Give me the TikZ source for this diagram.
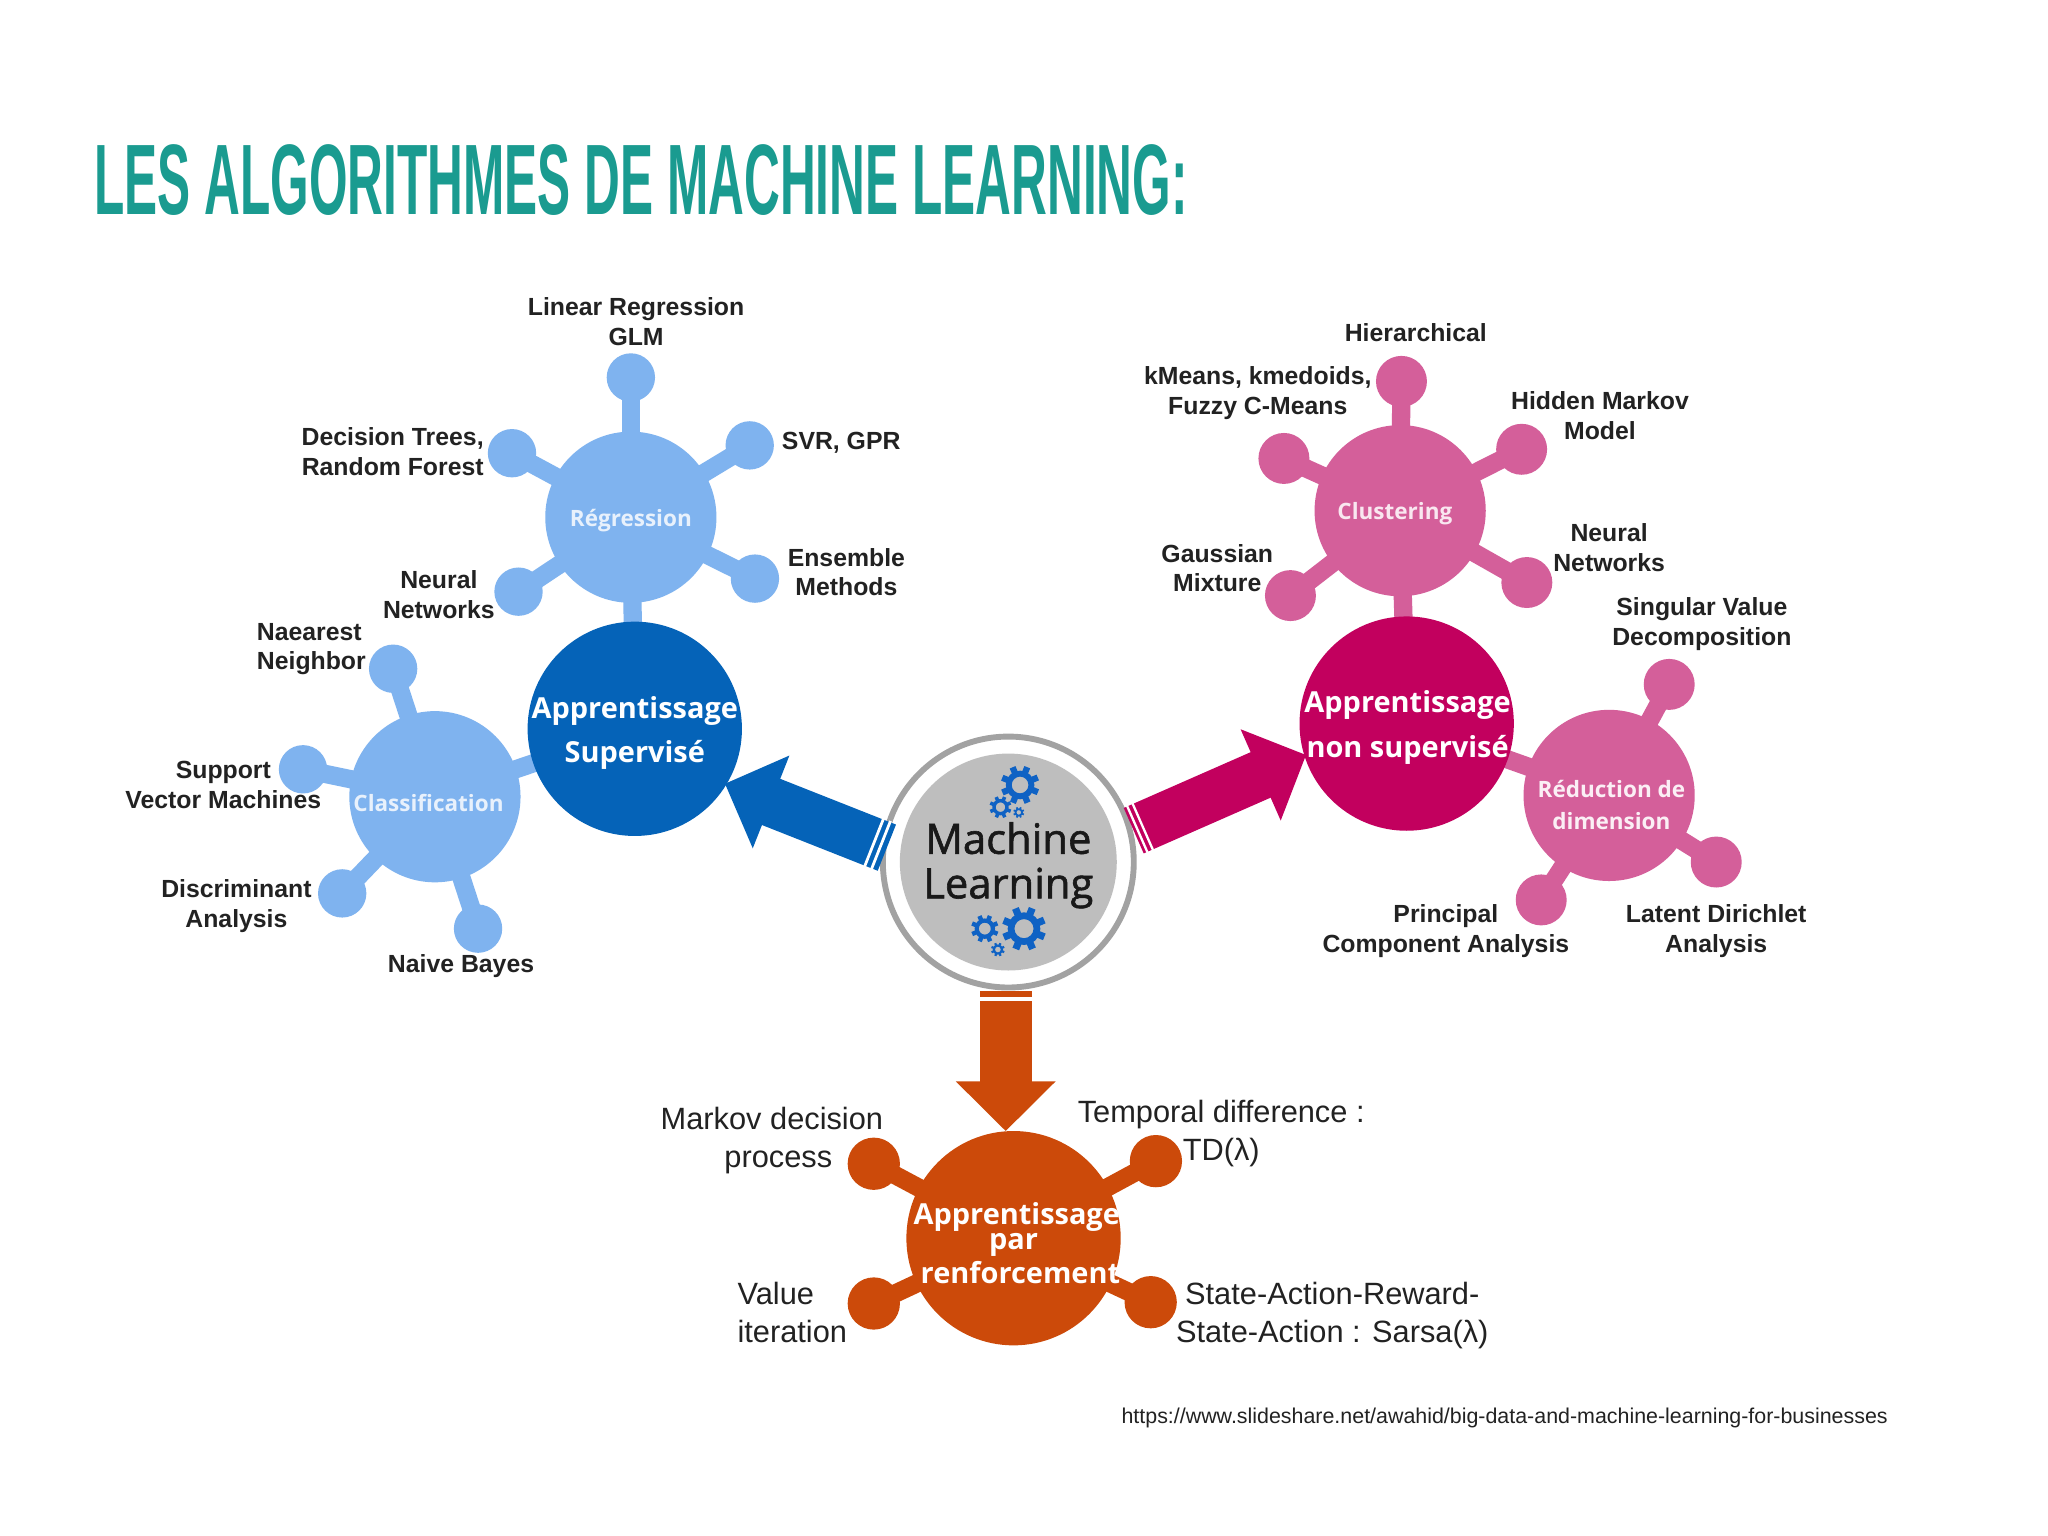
\documentclass[tikz,border=0pt]{standalone}
\usepackage{fontspec}
\setmainfont{Liberation Sans}
\newfontfamily\hubfont{Open Sans}
\newfontfamily\mlfont[FakeBold=1.4]{Open Sans}
\usetikzlibrary{arrows.meta,calc}
\pgfdeclarelayer{bg}
\pgfdeclarelayer{links}
\pgfsetlayers{bg,links,main}
\definecolor{teal1}{HTML}{1A9B90}
\definecolor{supblue}{HTML}{0563B8}
\definecolor{ltblue}{HTML}{7FB3EF}
\definecolor{magenta1}{HTML}{C2005E}
\definecolor{pink1}{HTML}{D45F9A}
\definecolor{orange1}{HTML}{CC4A0A}
\definecolor{gearblue}{HTML}{0F62C4}
\definecolor{discgrey}{HTML}{BEBEBE}
\definecolor{ringgrey}{HTML}{A2A2A2}
\definecolor{labelc}{HTML}{222222}
\newcommand{\gearmark}[3]{%
  \draw[gearblue,line width=#3*0.0032cm] (#1,#2) circle[radius=#3*0.62];
  \foreach \a in {0,45,...,315}{\draw[gearblue,line width=#3*0.0034cm] (#1,#2)+(\a+22:#3*0.6) -- +(\a+22:#3*1.05);}
}
\newcommand{\up}[1]{\rule{0pt}{#1}}
\tikzset{
  hub/.style={circle,inner sep=-6pt,minimum size=1.64cm,text=white,align=center,font=\hubfont\bfseries\fontsize{6.3}{9.7}\selectfont},
  subhub/.style={circle,inner sep=-4pt,minimum size=1.31cm,text=white,align=center,font=\hubfont\bfseries\fontsize{4.9}{7.1}\selectfont},
  sat/.style={circle,inner sep=0pt,minimum size=0.37cm},
  spoke/.style={line width=0.14cm,shorten <=-2pt,shorten >=-1pt},
  lab/.style={text=labelc,align=center,inner sep=0pt,font=\bfseries\fontsize{5.4}{6.5}\selectfont},
  labr/.style={text=labelc,align=center,inner sep=0pt,font=\fontsize{6.7}{8.2}\selectfont},
  bigarrow/.style={line width=0.38cm,-{Triangle[length=0.38cm,width=0.74cm]}},
  stripe/.style={line width=0.4cm,white},
}
\begin{document}
\begin{tikzpicture}[x=0.01cm,y=-0.01cm]
\useasboundingbox (0,0) rectangle (1568,1176);
\begin{pgfonlayer}{bg}\fill[white] (0,0) rectangle (1568,1176);\end{pgfonlayer}

\node[anchor=west,inner sep=0pt,text=teal1,xscale=0.495,font=\bfseries\fontsize{21.8}{24}\selectfont] (title) at (72,138) {LES ALGORITHMES DE MACHINE LEARNING:};

% Central node
\node[circle,draw=ringgrey,line width=0.045cm,fill=white,inner sep=0pt,minimum size=1.92cm] (mlring) at (772,660) {};
\node[circle,fill=discgrey,inner sep=-4pt,minimum size=1.66cm,align=center,text=black!90,font=\mlfont\fontsize{9.1}{9.7}\selectfont] (ml) at (772,660) {\up{8.3pt}Machine\\Learning};
\gearmark{781}{601}{14}
\gearmark{766}{618}{8}
\gearmark{780}{622}{4}
\gearmark{784}{711}{16}
\gearmark{754}{711}{10}
\gearmark{764}{727}{5}

% Hubs
\node[hub,fill=supblue] (sup) at (486,558) {\up{6.6pt}Apprentissage\\Supervisé};
\node[hub,fill=magenta1] (nonsup) at (1077,554) {\up{6.6pt}\hspace*{0.4pt}Apprentissage\\\hspace*{0.4pt}non supervisé};
\node[hub,fill=orange1,font=\hubfont\bfseries\fontsize{6.3}{5.4}\selectfont] (renf) at (776,948) {\up{7pt}\hspace*{1.4pt}Apprentissage\\par\\\hspace*{3pt}renforcement};
\node[subhub,fill=ltblue,text=white!82!ltblue] (reg) at (483,396) {\up{5pt}Régression};
\node[subhub,fill=ltblue,text=white!82!ltblue] (cla) at (333,610) {\up{6.5pt}Classification\hspace*{2.8pt}};
\node[subhub,fill=pink1,text=white!85!pink1] (clu) at (1072,391) {\up{5pt}Clustering\hspace*{2.3pt}};
\node[subhub,fill=pink1,text=white!90!pink1] (red) at (1232,609) {\up{8pt}\hspace*{1pt}Réduction de\\\hspace*{1pt}dimension};

% Satellites
\foreach \n/\x/\y in {r1/483/289,r2/574/341,r3/578/443,r4/397/453,r5/392/347,c1/301/512,c2/232/589,c3/262/684,c4/366/711}
  \node[sat,fill=ltblue] (\n) at (\x,\y) {};
\foreach \n/\x/\y in {k1/1073/292,k2/1165/344,k3/1169/446,k4/988/456,k5/983/351,d1/1278/524,d2/1314/660,d3/1180/689}
  \node[sat,fill=pink1,minimum size=0.39cm] (\n) at (\x,\y) {};
\foreach \n/\x/\y in {o1/669/891,o2/885/889,o3/669/998,o4/881/997}
  \node[sat,fill=orange1,minimum size=0.4cm] (\n) at (\x,\y) {};

\begin{pgfonlayer}{links}
\foreach \n in {r1,r2,r3,r4,r5,sup} \draw[spoke,ltblue] (reg) -- (\n);
\foreach \n in {c1,c2,c3,c4,sup} \draw[spoke,ltblue] (cla) -- (\n);
\foreach \n in {k1,k2,k3,k4,k5,nonsup} \draw[spoke,pink1] (clu) -- (\n);
\foreach \n in {d1,d2,d3,nonsup} \draw[spoke,pink1] (red) -- (\n);
\foreach \n in {o1,o2,o3,o4} \draw[spoke,orange1] (renf) -- (\n);
\end{pgfonlayer}

% Big arrows (distances along the shaft in pt: 1 pt = 3.5 picture units)
\coordinate (bs) at (679,649); \coordinate (bt) at (555,600);
\coordinate (ms) at (868,636); \coordinate (mt) at (1000,578);
\coordinate (os) at (770,759); \coordinate (ot) at (770,866);
\draw[bigarrow,supblue] (bs) -- (bt);
\draw[stripe] ($(bs)!1.1pt!(bt)$) -- ($(bs)!1.7pt!(bt)$);
\draw[stripe] ($(bs)!2.7pt!(bt)$) -- ($(bs)!3.3pt!(bt)$);
\draw[bigarrow,magenta1] (ms) -- (mt);
\draw[stripe] ($(ms)!0.6pt!(mt)$) -- ($(ms)!1.1pt!(mt)$);
\draw[stripe] ($(ms)!1.9pt!(mt)$) -- ($(ms)!2.4pt!(mt)$);
\draw[bigarrow,orange1,line width=0.396cm] (os) -- (ot);
\draw[stripe,line width=0.42cm] ($(os)!1.25pt!(ot)$) -- ($(os)!2.1pt!(ot)$);

% Labels
\node[lab] (l1) at (487,246) {Linear Regression\\GLM};
\node[lab,anchor=west] (l2) at (598,339) {SVR, GPR};
\node[lab] (l3) at (648,438) {Ensemble\\Methods};
\node[lab,align=right,anchor=east] (l4) at (371,346) {Decision Trees,\\Random Forest};
\node[lab] (l5) at (336,455) {Neural\\Networks};
\node[lab,align=left,anchor=west] (l6) at (196,497) {Naearest\\Neighbor};
\node[lab] (l7) at (171,601) {Support\\Vector Machines};
\node[lab] (l8) at (181,694) {Discriminant\\Analysis};
\node[lab] (l9) at (353,740) {Naive Bayes};
\node[lab] (l10) at (1084,255) {Hierarchical};
\node[lab] (l11) at (963,301) {kMeans, kmedoids,\\Fuzzy C-Means};
\node[lab] (l12) at (1225,318) {Hidden Markov\\Model};
\node[lab] (l13) at (1232,419) {Neural\\Networks};
\node[lab] (l14) at (932,435) {Gaussian\\Mixture};
\node[lab] (l15) at (1303,478) {Singular Value\\Decomposition};
\node[lab] (l16) at (1107,713) {Principal\\Component Analysis};
\node[lab] (l17) at (1314,713) {Latent Dirichlet\\Analysis};
\node[labr] (l18) at (591,873) {Markov decision\\\hspace*{2.8pt}process};
\node[labr,align=center] (l19) at (935,868) {Temporal difference :\\TD(λ)};
\node[labr,align=left,anchor=west] (l20) at (564,1005) {Value\\iteration};
\node[labr] (l21) at (1020,1007) {State-Action-Reward-\\State-Action : Sarsa(λ)};
\node[anchor=west,inner sep=0pt,text=labelc,font=\fontsize{4.66}{6}\selectfont] (url) at (858,1086) {https://www.slideshare.net/awahid/big-data-and-machine-learning-for-businesses};
\end{tikzpicture}
\end{document}
